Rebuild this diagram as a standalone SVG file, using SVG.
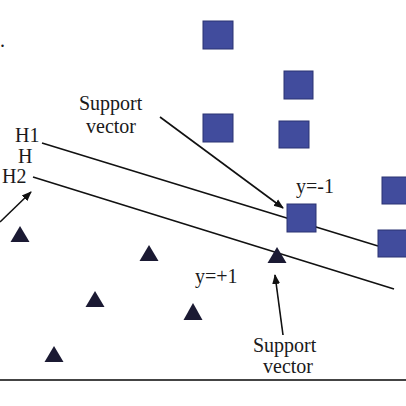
<svg xmlns="http://www.w3.org/2000/svg" width="406" height="406" viewBox="0 0 406 406">
<style>
.sq{fill:#414c9d;stroke:#2b3272;stroke-width:1}
.tri{fill:#1b1a33}
.lbl{font-family:"Liberation Serif","Times New Roman",serif;font-size:20px;fill:#1a1a1a}
.ln{stroke:#111;stroke-width:1.6;fill:none}
</style>
<defs>
<marker id="ah" markerWidth="10" markerHeight="10" refX="9" refY="5" orient="auto" markerUnits="userSpaceOnUse">
<path d="M0,1 L10,5 L0,9 Z" fill="#111"/>
</marker>
</defs>
<rect width="406" height="406" fill="#fff"/>
<g id="connectors">
<line class="ln" x1="42" y1="143" x2="378" y2="246"/>
<line class="ln" x1="33" y1="177" x2="394" y2="289"/>
<line class="ln" x1="0" y1="222" x2="31" y2="192" marker-end="url(#ah)"/>
<line class="ln" x1="160" y1="117" x2="283" y2="208" marker-end="url(#ah)"/>
<line class="ln" x1="283" y1="335" x2="275" y2="275" marker-end="url(#ah)"/>
<line x1="0" y1="380" x2="406" y2="380" stroke="#444" stroke-width="2"/>
</g>
<g id="squares">
<rect id="sq1" class="sq" x="203" y="21" width="30" height="28"/>
<rect id="sq2" class="sq" x="284" y="71" width="29" height="28"/>
<rect id="sq3" class="sq" x="203" y="114" width="30" height="28"/>
<rect id="sq4" class="sq" x="279" y="121" width="30" height="27"/>
<rect id="sq5" class="sq" x="382" y="177" width="30" height="27"/>
<rect id="sq6" class="sq" x="287" y="204" width="29" height="28"/>
<rect id="sq7" class="sq" x="378" y="230" width="30" height="27"/>
</g>
<g id="triangles">
<polygon id="t1" class="tri" points="20,226 29.5,242 10.5,242"/>
<polygon id="t2" class="tri" points="149,245 158.5,261 139.5,261"/>
<polygon id="t3" class="tri" points="95,291 104.5,307 85.5,307"/>
<polygon id="t4" class="tri" points="193,303 202.5,320 183.5,320"/>
<polygon id="t5" class="tri" points="54,346 63.5,362 44.5,362"/>
<polygon id="t6" class="tri" points="277,247 286.5,263 267.5,263"/>
</g>
<g id="labels">
<text class="lbl" x="0" y="47">.</text>
<text class="lbl" x="15" y="142">H1</text>
<text class="lbl" x="18" y="163">H</text>
<text class="lbl" x="2" y="183">H2</text>
<text class="lbl" x="79" y="110">Support</text>
<text class="lbl" x="86" y="133">vector</text>
<text class="lbl" x="296" y="193">y=-1</text>
<text class="lbl" x="195" y="283">y=+1</text>
<text class="lbl" x="253" y="352">Support</text>
<text class="lbl" x="263" y="373">vector</text>
</g>
</svg>
